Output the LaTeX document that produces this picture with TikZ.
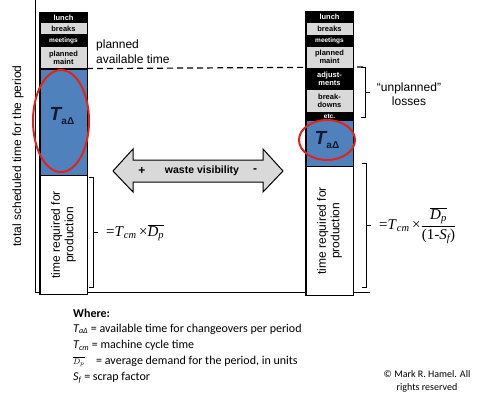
\documentclass[tikz,border=0pt]{standalone}
\usepackage{fontspec}
\setmainfont{Liberation Sans}
\newfontfamily\calfont{Carlito}
\newfontfamily\serf{Liberation Serif}
\usetikzlibrary{shapes.geometric,positioning}
\definecolor{barblue}{HTML}{4F81BD}
\definecolor{lossgray}{HTML}{D9D9D9}
\definecolor{ringred}{HTML}{E2231A}
\definecolor{tnavy}{HTML}{141A33}
\newcommand{\sqbrace}[3]{%
	\draw[brace] (#1-4,#2) -- (#1,#2) -- (#1,#3) -- (#1-4,#3);
	\draw[brace] (#1,{(#2+#3)/2}) -- (#1+5,{(#2+#3)/2});}
\newcommand{\tad}{\fontsize{19}{19}\selectfont\bfseries\itshape T\raisebox{-4pt}{\fontsize{10}{10}\selectfont\upshape a\kern0.3pt Δ}}
\newcommand{\dbar}{$\overline{\hbox{\serf\itshape D\textsubscript{p}}}$}
\newcommand{\tcm}{\textit{T}\textsubscript{\itshape cm}}

\begin{document}
\begin{tikzpicture}[x=1pt,y=-1pt,
	blk/.style={rectangle,draw=black,fill=black,text=white,font=\fontsize{7.5}{8}\selectfont\bfseries,inner sep=0pt,minimum width=47pt,align=center},
	gry/.style={blk,fill=lossgray,text=black},
	bar/.style={rectangle,draw=black,inner sep=0pt,minimum width=47pt},
	ring/.style={ellipse,draw=ringred,line width=2pt,inner sep=0pt},
	brace/.style={line width=0.6pt},
	lbl/.style={font=\fontsize{12}{13.5}\selectfont,align=center,inner sep=0pt},
	frm/.style={font=\serf\fontsize{15}{17}\selectfont,inner sep=0pt},
	leg/.style={anchor=west,font=\calfont\fontsize{12}{14}\selectfont,inner sep=0pt}]
		\useasboundingbox (0,0) rectangle (485,400);
		\def\xl{63.5}
		\def\xr{329.5}
		\coordinate (ytop) at (35,0);
		\coordinate (orig) at (35,292);
		\coordinate (xend) at (370,292);
		\draw[line width=0.8pt] (ytop) -- (orig) -- (xend);
		\node[lbl,rotate=90] (ylab) at (18,156) {total scheduled time for the period};
		\coordinate (dashend) at (365,67);
		% left column
		\node[blk,anchor=north,minimum height=9pt] (lunchL) at (\xl,12.7) {lunch};
		\node[gry,minimum height=12.3pt,below=0pt of lunchL] (breaksL) {breaks};
		\node[blk,minimum height=11pt,font=\fontsize{6.5}{7}\selectfont\bfseries,below=0pt of breaksL] (meetL) {meetings};
		\node[gry,minimum height=22pt,below=0pt of meetL] (maintL) {planned\\maint};
		\node[bar,fill=barblue,minimum height=106pt,below=0pt of maintL] (blueL) {};
		\node[bar,fill=white,minimum height=119pt,below=0pt of blueL] (prodL) {};
		\draw[line width=1.3pt] (lunchL.north west) rectangle (prodL.south east);
		\draw[dashed,line width=1.2pt,dash pattern=on 6pt off 4pt] (maintL.south east) -- (dashend);
		\node[ring,minimum width=56pt,minimum height=102pt] (ringL) at (61,121) {};
		\node[text=tnavy] (taL) at (62,116) {\tad};
		\node[lbl,rotate=90] (reqL) at (prodL.center) {time required for\\production};
		% right column
		\node[blk,anchor=north,minimum height=10pt] (lunchR) at (\xr,11.7) {lunch};
		\node[gry,minimum height=12.6pt,below=0pt of lunchR] (breaksR) {breaks};
		\node[blk,minimum height=10.7pt,font=\fontsize{6.5}{7}\selectfont\bfseries,below=0pt of breaksR] (meetR) {meetings};
		\node[gry,minimum height=21.7pt,below=0pt of meetR] (maintR) {planned\\maint};
		\node[blk,minimum height=20pt,below=0pt of maintR] (adjR) {adjust-\\ments};
		\node[gry,minimum height=23.3pt,below=0pt of adjR] (downR) {break-\\downs};
		\node[blk,minimum height=6.7pt,font=\fontsize{6.5}{6.5}\selectfont\bfseries,below=0pt of downR] (etcR) {etc.};
		\node[bar,fill=barblue,minimum height=46pt,below=0pt of etcR] (blueR) {};
		\node[bar,fill=white,minimum height=129.3pt,below=0pt of blueR] (prodR) {};
		\draw[line width=1.3pt] (lunchR.north west) rectangle (prodR.south east);
		\node[ring,minimum width=56pt,minimum height=40pt] (ringR) at (327,140) {};
		\node[text=tnavy] (taR) at (327,140) {\tad};
		\node[lbl,rotate=90] (reqR) at (prodR.center) {time required for\\production};
		% braces and labels
		\node[lbl,align=left,anchor=west,font=\fontsize{12}{15}\selectfont] (plan) at (96,52) {planned\\available time};
		\sqbrace{365}{67}{117}
		\node[lbl] (unpl) at (409,94) {“unplanned”\\losses};
		\sqbrace{93}{177}{287}
		\node[frm,anchor=west] (fmL) at (106,233) {=\tcm\,×\dbar};
		\sqbrace{366}{163}{287}
		\node[frm,anchor=west] (fmR) at (379,226) {=\tcm\,×$\displaystyle\frac{\hbox{\dbar}}{\hbox{\serf(1-\textit{S}\textsubscript{\itshape f})}}$};
		% waste visibility arrow
		\draw[fill=lossgray,line width=1pt] (113,171) -- (133,149) -- (133,160) -- (263,160) -- (263,149) -- (283,171) -- (263,192) -- (263,182) -- (133,182) -- (133,192) -- cycle;
		\node[font=\fontsize{12}{12}\selectfont\bfseries] (plus) at (142,171) {+};
		\node[font=\fontsize{10.5}{12}\selectfont\bfseries] (waste) at (202,171) {waste visibility};
		\node[font=\fontsize{12}{12}\selectfont\bfseries] (minus) at (255,171) {-};
		% legend
		\node[leg,font=\calfont\bfseries\fontsize{12}{14}\selectfont] (where) at (73,313) {Where:};
		\node[leg] (legT) at (73,329) {{\itshape T\textsubscript{aΔ}} = available time for changeovers per period};
		\node[leg] (legC) at (73,345) {{\itshape T\textsubscript{cm}} = machine cycle time};
		\node[leg] (legD) at (73,361) {{\fontsize{8}{8}\selectfont$\overline{D_p}$}\hspace{9pt} = average demand for the period, in units};
		\node[leg] (legS) at (73,378) {{\itshape S\textsubscript{f}} = scrap factor};
		\node[font=\calfont\fontsize{10}{13}\selectfont,align=center,inner sep=0pt] (copy) at (427,381) {© Mark R. Hamel. All\\rights reserved};
	\end{tikzpicture}
\end{document}
